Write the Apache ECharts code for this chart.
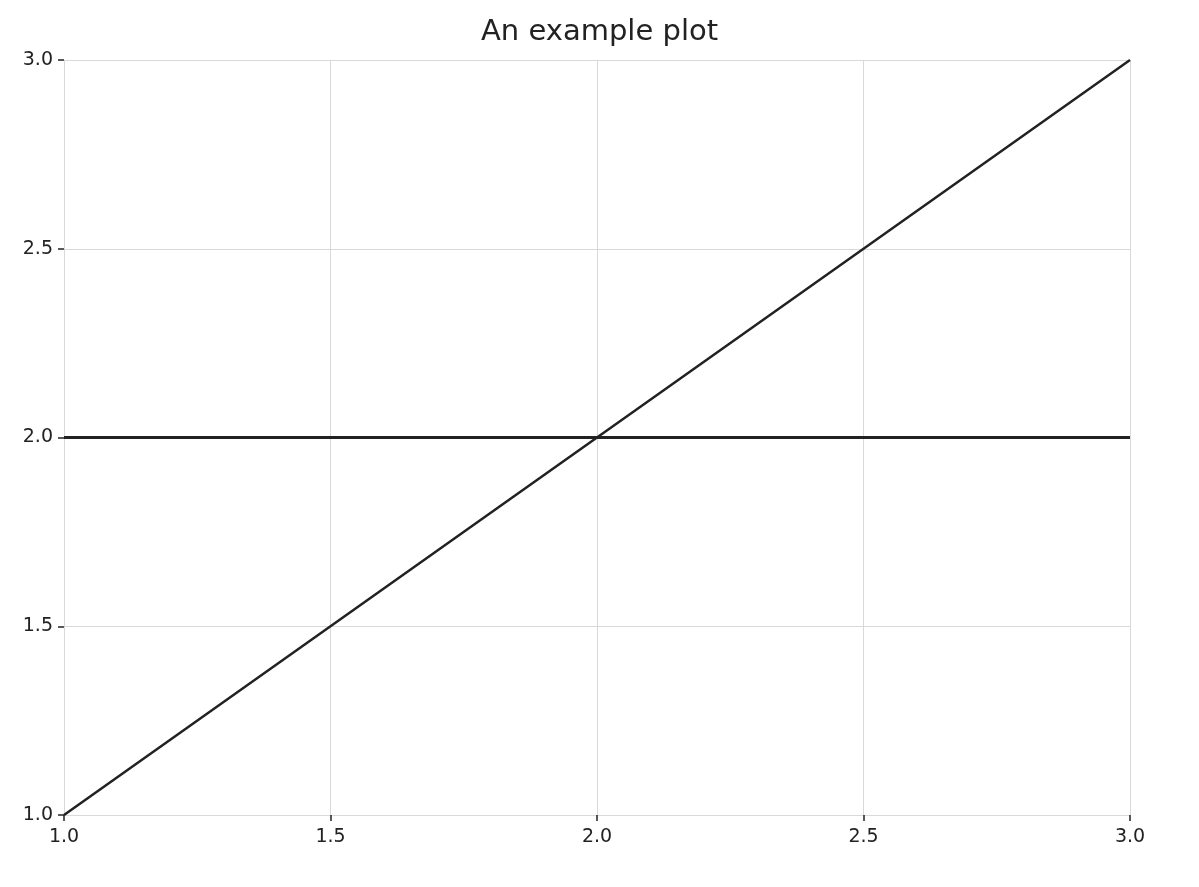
<!DOCTYPE html>
<html>
<head>
<meta charset="utf-8">
<script src="https://cdn.jsdelivr.net/npm/echarts@6/dist/echarts.min.js"></script>
<style>
html,body{margin:0;padding:0;background:#fff;}
#chart{width:1199px;height:887px;}
</style>
</head>
<body>
<div id="chart"></div>
<script>
const titleText = "An example plot";
const diagonalX = [1, 2, 3];
const diagonalY = [1, 2, 3];
const flatX = [1, 3];
const flatY = [2, 2];
const xTicks = [1.0, 1.5, 2.0, 2.5, 3.0];
const yTicks = [1.0, 1.5, 2.0, 2.5, 3.0];

const chart = echarts.init(document.getElementById('chart'), null, {renderer: 'canvas'});
const font = "'DejaVu Sans', Verdana, sans-serif";
function pairs(xs, ys) { return xs.map((x, i) => [x, ys[i]]); }
function makeAxis(ticks, margin) {
  return {
    type: 'value',
    min: ticks[0], max: ticks[ticks.length - 1], interval: ticks[1] - ticks[0],
    axisLine: {show: false},
    axisTick: {show: true, length: 6, lineStyle: {color: '#222', width: 1.5}},
    splitLine: {show: true, lineStyle: {color: '#d9d9d9', width: 1}},
    axisLabel: {color: '#222', fontFamily: font, fontSize: 19, margin: margin,
                formatter: v => v.toFixed(1)}
  };
}
chart.setOption({
  animation: false,
  backgroundColor: '#fff',
  title: {
    text: titleText, left: 476, top: 13,
    textStyle: {fontFamily: font, fontSize: 29, fontWeight: 'normal', color: '#222'}
  },
  grid: {left: 64, right: 69, top: 60, bottom: 72, containLabel: false},
  xAxis: makeAxis(xTicks, 13),
  yAxis: makeAxis(yTicks, 11),
  series: [
    {type: 'line', data: pairs(diagonalX, diagonalY), showSymbol: false, lineStyle: {color: '#222', width: 2.5}},
    {type: 'line', data: pairs(flatX, flatY), showSymbol: false, lineStyle: {color: '#222', width: 3}}
  ]
});
</script>
</body>
</html>
